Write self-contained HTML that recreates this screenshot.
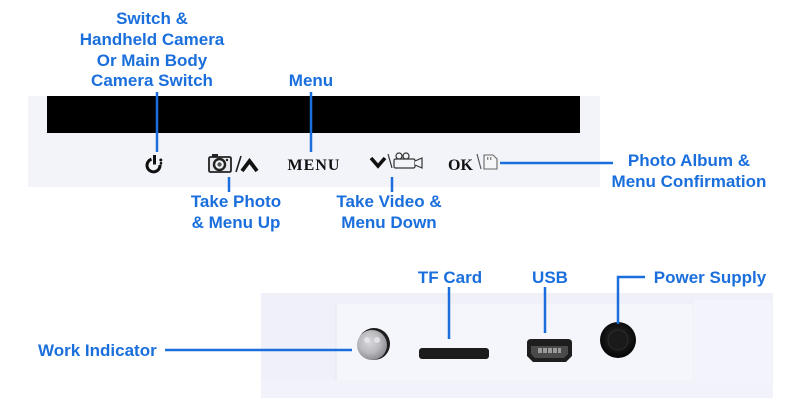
<!DOCTYPE html>
<html>
<head>
<meta charset="utf-8">
<style>
html,body{margin:0;padding:0;background:#fff;}
body{width:800px;height:402px;overflow:hidden;}
svg{display:block;}
.t{font-family:"Liberation Sans",Arial,sans-serif;font-weight:bold;font-size:17px;fill:#1a6fdc;}
.ln{stroke:#1a6fdc;stroke-width:2.5;fill:none;}
</style>
</head>
<body>
<svg width="800" height="402" viewBox="0 0 800 402" xmlns="http://www.w3.org/2000/svg">
  <defs>
    <radialGradient id="led" cx="0.42" cy="0.4" r="0.6">
      <stop offset="0" stop-color="#d8d8dc"/>
      <stop offset="0.6" stop-color="#b9b9be"/>
      <stop offset="1" stop-color="#8e8e94"/>
    </radialGradient>
    <radialGradient id="jack" cx="0.5" cy="0.45" r="0.55">
      <stop offset="0" stop-color="#3a3a3a"/>
      <stop offset="0.5" stop-color="#1a1a1a"/>
      <stop offset="1" stop-color="#050505"/>
    </radialGradient>
  </defs>

  <!-- Top panel -->
  <rect x="28" y="96" width="572" height="91" fill="#f3f4f9"/>
  <rect x="47" y="96" width="533" height="37" fill="#000"/>

  <!-- Power icon -->
  <g transform="translate(155,164)">
    <path d="M-3.5,-4.8 A6.5,6.5 0 1 0 5,0.8" fill="none" stroke="#111" stroke-width="3"/>
    <line x1="-0.5" y1="-9" x2="-0.5" y2="0.5" stroke="#111" stroke-width="3"/>
    <circle cx="5.8" cy="-4" r="1.5" fill="#111"/>
    <circle cx="6" cy="-0.8" r="1.3" fill="#111"/>
  </g>

  <!-- Camera icon / up -->
  <g>
    <rect x="209" y="157" width="22" height="15" rx="1.5" fill="#e8e9ee" stroke="#222" stroke-width="1.8"/>
    <rect x="212" y="154" width="6" height="3" fill="#222"/>
    <circle cx="219.5" cy="164.5" r="5.5" fill="#f3f4f9" stroke="#222" stroke-width="2.4"/>
    <circle cx="219.5" cy="164.5" r="2.2" fill="#555"/>
    <circle cx="227" cy="160" r="1.2" fill="#222"/>
    <line x1="236" y1="172" x2="241" y2="156" stroke="#222" stroke-width="1.6"/>
    <path d="M242,171 L249.5,161 L257,171" fill="none" stroke="#111" stroke-width="3.8"/>
  </g>

  <!-- MENU -->
  <text x="314" y="170" text-anchor="middle" font-family="'Liberation Serif',serif" font-weight="bold" font-size="16" letter-spacing="1" fill="#111">MENU</text>

  <!-- down / video -->
  <g>
    <path d="M371,158 L378,166 L385,158" fill="none" stroke="#111" stroke-width="3.6"/>
    <line x1="388" y1="154" x2="392" y2="168" stroke="#333" stroke-width="1.2"/>
    <rect x="394" y="159" width="21" height="9" rx="1.5" fill="#f3f4f9" stroke="#333" stroke-width="1.2"/>
    <circle cx="399" cy="156" r="3" fill="#f3f4f9" stroke="#333" stroke-width="1.2"/>
    <circle cx="406" cy="156" r="3" fill="#f3f4f9" stroke="#333" stroke-width="1.2"/>
    <path d="M415,161 L422,158 L422,168 L415,165" fill="#f3f4f9" stroke="#333" stroke-width="1.2"/>
  </g>

  <!-- OK / album -->
  <text x="448" y="170" font-family="'Liberation Serif',serif" font-weight="bold" font-size="16" fill="#111">OK</text>
  <line x1="477" y1="154" x2="481" y2="169" stroke="#555" stroke-width="1.2"/>
  <path d="M484,155 L493,155 L497,159 L497,169 L484,169 Z" fill="#f6f6f8" stroke="#666" stroke-width="1.1"/>
  <rect x="487" y="157" width="1.4" height="3" fill="#888"/>
  <rect x="490" y="157" width="1.4" height="3" fill="#888"/>

  <!-- Bottom panel -->
  <rect x="261" y="293" width="512" height="105" fill="#eff0f8"/>
  <path d="M336,304 L690,304 Q694,304 694,310 L696,378 Q697,382 700,382 L773,382 L773,398 L261,398 L261,380 L336,380 Z" fill="#f2f3fa"/>
  <rect x="694" y="300" width="78" height="82" fill="#f3f4fb"/>
  <rect x="336" y="304" width="356" height="76" fill="#f5f6fc"/>
  <line x1="336" y1="304" x2="336" y2="380" stroke="#e4e6f2" stroke-width="1"/>

  <!-- LED -->
  <circle cx="374" cy="344" r="16" fill="#1d1d1d"/>
  <circle cx="372" cy="345" r="15" fill="url(#led)"/>
  <circle cx="367" cy="340" r="3" fill="#e8e8ec" opacity="0.8"/>
  <circle cx="377" cy="340" r="3" fill="#e8e8ec" opacity="0.8"/>

  <!-- TF slot -->
  <rect x="419" y="348" width="70" height="11" rx="3" fill="#1c1c1c"/>

  <!-- USB -->
  <path d="M527,343 Q527,339 531,339 L568,339 Q572,339 572,343 L572,356 L566,362 L533,362 L527,356 Z" fill="#1e1e1e"/>
  <path d="M531,346 L568,346 L568,354 L564,358 L535,358 L531,354 Z" fill="#4a4a4a"/>
  <rect x="538" y="348" width="23" height="5" fill="#9a9a9a"/>
  <g fill="#444"><rect x="542" y="348" width="1" height="5"/><rect x="547" y="348" width="1" height="5"/><rect x="552" y="348" width="1" height="5"/><rect x="557" y="348" width="1" height="5"/></g>

  <!-- Power jack -->
  <circle cx="618" cy="340" r="18" fill="url(#jack)"/>
  <circle cx="618" cy="340" r="10" fill="#1a1a1a" stroke="#2c2c2c" stroke-width="1"/>

  <!-- Connector lines -->
  <line class="ln" x1="157" y1="92" x2="157" y2="152"/>
  <line class="ln" x1="311" y1="92" x2="311" y2="152"/>
  <line class="ln" x1="229" y1="177" x2="229" y2="192"/>
  <line class="ln" x1="392" y1="177" x2="392" y2="192"/>
  <line class="ln" x1="500" y1="163" x2="613" y2="163"/>
  <line class="ln" x1="165" y1="350" x2="352" y2="350"/>
  <line class="ln" x1="449" y1="287" x2="449" y2="339"/>
  <line class="ln" x1="545" y1="287" x2="545" y2="333"/>
  <polyline class="ln" points="645,277 618,277 618,324"/>

  <!-- Labels -->
  <text class="t" x="152" y="24" text-anchor="middle">Switch &amp;</text>
  <text class="t" x="152" y="45" text-anchor="middle">Handheld Camera</text>
  <text class="t" x="152" y="66" text-anchor="middle">Or Main Body</text>
  <text class="t" x="152" y="86" text-anchor="middle">Camera Switch</text>
  <text class="t" x="311" y="86" text-anchor="middle">Menu</text>
  <text class="t" x="236" y="207" text-anchor="middle">Take Photo</text>
  <text class="t" x="236" y="228" text-anchor="middle">&amp; Menu Up</text>
  <text class="t" x="389" y="207" text-anchor="middle">Take Video &amp;</text>
  <text class="t" x="389" y="228" text-anchor="middle">Menu Down</text>
  <text class="t" x="689" y="166" text-anchor="middle">Photo Album &amp;</text>
  <text class="t" x="689" y="187" text-anchor="middle">Menu Confirmation</text>
  <text class="t" x="38" y="356">Work Indicator</text>
  <text class="t" x="450" y="283" text-anchor="middle">TF Card</text>
  <text class="t" x="550" y="283" text-anchor="middle">USB</text>
  <text class="t" x="710" y="283" text-anchor="middle">Power Supply</text>
</svg>
</body>
</html>
